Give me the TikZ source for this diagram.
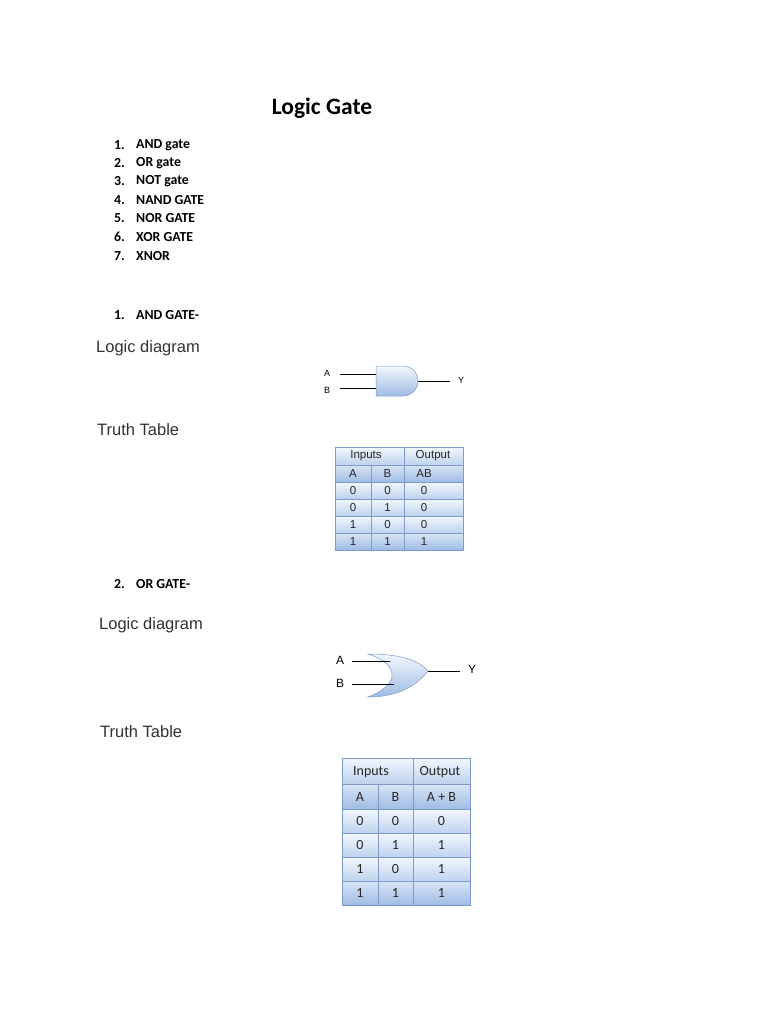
\documentclass[tikz,border=0pt]{standalone}
\usepackage{fontspec}
\setmainfont{Carlito}
\newfontfamily\arial{Liberation Sans}
\definecolor{tb}{RGB}{125,155,200}
\definecolor{ct1}{RGB}{242,247,253}
\definecolor{cb1}{RGB}{190,210,238}
\definecolor{hb}{RGB}{160,188,228}
\begin{document}
\begin{tikzpicture}[x=1pt,y=-1pt,
  hd/.style={font=\bfseries\fontsize{13.8}{16}\selectfont,anchor=west,inner sep=0},
  lbl/.style={font=\arial\fontsize{16.5}{19}\selectfont,anchor=west,inner sep=0,text=black!80},
  pin/.style={font=\arial\fontsize{9}{10}\selectfont,inner sep=0},
  cell/.style={draw=tb,top color=ct1,bottom color=cb1,line width=0.6pt},
  hcell/.style={draw=tb,top color=cb1!60,bottom color=hb,line width=0.6pt},
  ct/.style={font=\arial\fontsize{11.5}{13}\selectfont,inner sep=0,text=black!85},
  ot/.style={font=\fontsize{14}{16}\selectfont,inner sep=0,text=black!85},
  gate/.style={draw=tb,top color=ct1,bottom color=hb,line width=0.5pt},
  wire/.style={line width=0.6pt}]
\useasboundingbox (0,0) rectangle (768,1024);
\fill[white] (0,0) rectangle (768,1024);
\node[font=\bfseries\fontsize{23.5}{28}\selectfont,inner sep=0] (title) at (322,108) {Logic Gate};
\foreach \n/\t/\y in {1/AND gate/145,2/OR gate/163,3/NOT gate/181,4/NAND GATE/200,5/NOR GATE/218,6/XOR GATE/237,7/XNOR/256}{
  \node[hd,anchor=east] (n\n) at (125,\y) {\n.};
  \node[hd] (i\n) at (136,\y) {\t};
}
\node[hd,anchor=east] (s1n) at (125,315) {1.};
\node[hd] (s1) at (136,315) {AND GATE-};
\node[lbl] (ld1) at (96,348) {Logic diagram};
\node[lbl] (tt1) at (97,430) {Truth Table};
% AND gate
\path[gate] (376,366) -- (403,366) arc[start angle=-90,end angle=90,radius=15] -- (376,396) -- cycle;
\coordinate (a1) at (340,374); \coordinate (b1) at (340,388);
\coordinate (ga) at (376,374); \coordinate (gb) at (376,388);
\coordinate (go) at (418,381); \coordinate (yo) at (450,381);
\draw[wire] (a1) -- (ga); \draw[wire] (b1) -- (gb); \draw[wire] (go) -- (yo);
\node[pin] (A1) at (327,373) {A};
\node[pin] (B1) at (327,390) {B};
\node[pin] (Y1) at (461,380) {Y};
% AND table
\path[cell] (335,447) rectangle (463,465);
\path[hcell] (335,465) rectangle (463,482);
\draw[tb,line width=0.6pt] (404,447) -- (404,465);
\node[ct] (h1) at (366,456) {Inputs};
\node[ct] (h2) at (433,456) {Output};
\foreach \x/\w/\t/\c in {335/371/A/353,371/404/B/387.5,404/463/AB/424}{
  \draw[tb,line width=0.6pt] (\x,465) rectangle (\w,482);
  \node[ct] at (\c,474) {\t};}
\foreach \r/\p/\q/\o in {0/0/0/0,1/0/1/0,2/1/0/0}{
  \pgfmathsetmacro\yt{482+17*\r}
  \path[cell] (335,\yt) rectangle (463,\yt+17);
  \draw[tb,line width=0.6pt] (371,\yt) -- (371,\yt+17) (404,\yt) -- (404,\yt+17);
  \node[ct] at (353,\yt+8.5) {\p};
  \node[ct] at (387.5,\yt+8.5) {\q};
  \node[ct] at (424,\yt+8.5) {\o};}
\path[hcell] (335,533) rectangle (463,550);
\draw[tb,line width=0.6pt] (371,533) -- (371,550) (404,533) -- (404,550);
\node[ct] at (353,541.5) {1};\node[ct] at (387.5,541.5) {1};\node[ct] at (424,541.5) {1};
% OR section
\node[hd,anchor=east] (s2n) at (125,584) {2.};
\node[hd] (s2) at (136,584) {OR GATE-};
\node[lbl] (ld2) at (99,625) {Logic diagram};
\node[lbl] (tt2) at (100,732) {Truth Table};
\path[gate] (368,654) .. controls (405,654) and (420,662) .. (428,671)
  .. controls (418,684) and (400,697) .. (368,697)
  .. controls (400,685) and (400,664) .. cycle;
\coordinate (a2) at (352,661); \coordinate (b2) at (352,684);
\coordinate (ga2) at (390,661); \coordinate (gb2) at (394,684);
\coordinate (go2) at (428,671); \coordinate (yo2) at (460,671);
\draw[wire] (a2) -- (ga2); \draw[wire] (b2) -- (gb2); \draw[wire] (go2) -- (yo2);
\node[pin,font=\arial\fontsize{12}{14}\selectfont] (A2) at (340,660) {A};
\node[pin,font=\arial\fontsize{12}{14}\selectfont] (B2) at (340,683) {B};
\node[pin,font=\arial\fontsize{12}{14}\selectfont] (Y2) at (472,669) {Y};
% OR table
\path[cell] (342,758) rectangle (470,784);
\draw[tb,line width=0.6pt] (413,758) -- (413,784);
\node[ot] at (371,772) {Inputs};
\node[ot] at (440,772) {Output};
\path[hcell] (342,784) rectangle (470,809);
\foreach \x/\w/\t in {342/378/A,378/413/B,413/470/A + B}{
  \draw[tb,line width=0.6pt] (\x,784) rectangle (\w,809);
  \node[ot] at ({(\x+\w)/2},797) {\t};}
\foreach \r/\p/\q/\o in {0/0/0/0,1/0/1/1,2/1/0/1}{
  \pgfmathsetmacro\yt{809+24*\r}
  \path[cell] (342,\yt) rectangle (470,\yt+24);
  \draw[tb,line width=0.6pt] (378,\yt) -- (378,\yt+24) (413,\yt) -- (413,\yt+24);
  \node[ot] at (360,\yt+12) {\p};
  \node[ot] at (395.5,\yt+12) {\q};
  \node[ot] at (441.5,\yt+12) {\o};}
\path[hcell] (342,881) rectangle (470,905);
\draw[tb,line width=0.6pt] (378,881) -- (378,905) (413,881) -- (413,905);
\node[ot] at (360,893) {1};
\node[ot] at (395.5,893) {1};
\node[ot] at (441.5,893) {1};
\end{tikzpicture}
\end{document}
